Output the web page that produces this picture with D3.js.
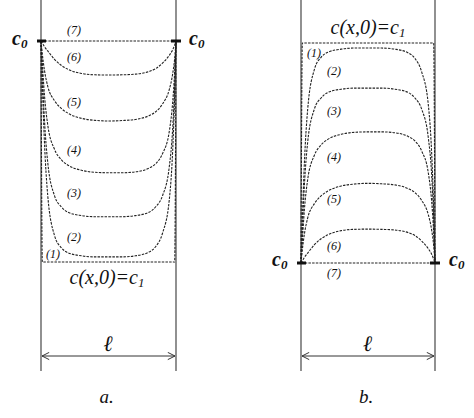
<!DOCTYPE html>
<html>
<head>
<meta charset="utf-8">
<script src="https://cdn.jsdelivr.net/npm/d3@7"></script>
<style>
body{margin:0;background:#fff;}
</style>
</head>
<body>
<div id="chart"></div>
<script>
// curve labels, top to bottom order of time
var curveLabels = ["(1)","(2)","(3)","(4)","(5)","(6)","(7)"];

// positions along the layer, 0..l
var xs = [0,0.01,0.025,0.05,0.1,0.15,0.2,0.3,0.4,0.5,0.6,0.7,0.8,0.85,0.9,0.95,0.975,0.99,1];

// fraction of the way from c0 to c1 at each x
var prof1 = [0,1,1,1,1,1,1,1,1,1,1,1,1,1,1,1,1,1,0];
var prof2 = [0,0.2,0.45,0.7,0.88,0.935,0.958,0.972,0.977,0.977,0.977,0.972,0.955,0.93,0.87,0.72,0.5,0.25,0];
var prof3 = [0,0.15,0.35,0.55,0.7,0.75,0.775,0.79,0.795,0.795,0.795,0.79,0.775,0.75,0.7,0.57,0.4,0.2,0];
var prof4 = [0,0.1,0.24,0.38,0.49,0.537,0.562,0.585,0.594,0.596,0.596,0.592,0.575,0.555,0.51,0.41,0.28,0.14,0];
var prof5 = [0,0.06,0.13,0.205,0.27,0.305,0.327,0.35,0.359,0.362,0.36,0.355,0.338,0.32,0.285,0.22,0.15,0.08,0];
var prof6 = [0,0.01,0.025,0.045,0.083,0.11,0.128,0.147,0.153,0.154,0.153,0.15,0.138,0.125,0.1,0.065,0.04,0.018,0];
var prof7 = [0,0,0,0,0,0,0,0,0,0,0,0,0,0,0,0,0,0,0];

var profiles = [prof1,prof2,prof3,prof4,prof5,prof6,prof7];

var W = 474, H = 418;
var svg = d3.select("#chart").append("svg").attr("width",W).attr("height",H)
	.attr("font-family","'Liberation Serif','Times New Roman',serif")
	.attr("font-style","italic");

var panels = [
	{name:"a.", x0:41, x1:176, yc0:41, yc1:262, lineTop:0, lineBot:371,
	 labelX:[53,74,74,74,74,74,74], labelY:[254,237,193,150,102,57,30],
	 eqX:107, eqY:284, c0Y:45, c0L:12, c0R:189},
	{name:"b.", x0:301, x1:435, yc0:263, yc1:43, lineTop:0, lineBot:371,
	 labelX:[314,334,334,334,334,334,334], labelY:[53,71,111,157,199,246,273],
	 eqX:368, eqY:34, c0Y:266, c0L:272, c0R:449}
];

var defs = svg.append("defs");
defs.append("marker").attr("id","arr").attr("viewBox","0 0 10 10")
	.attr("refX",9).attr("refY",5).attr("markerWidth",9).attr("markerHeight",9)
	.attr("markerUnits","userSpaceOnUse").attr("orient","auto-start-reverse")
	.append("path").attr("d","M1,1 L9,5 L1,9").attr("fill","none")
	.attr("stroke","#333").attr("stroke-width",1.1);

panels.forEach(function(p){
	var g = svg.append("g");
	var x = d3.scaleLinear().domain([0,1]).range([p.x0,p.x1]);
	var y = d3.scaleLinear().domain([0,1]).range([p.yc0,p.yc1]);

	// side walls
	[p.x0,p.x1].forEach(function(v){
		g.append("line").attr("x1",v).attr("x2",v).attr("y1",p.lineTop).attr("y2",p.lineBot)
			.attr("stroke","#555").attr("stroke-width",1.3);
	});

	var line = d3.line().x(function(d){return x(d[0]);}).y(function(d){return y(d[1]);})
		.curve(d3.curveMonotoneX);

	profiles.forEach(function(prof,i){
		var pts = xs.map(function(v,j){return [v,prof[j]];});
		g.append("path").attr("d",line(pts)).attr("fill","none")
			.attr("stroke","#222").attr("stroke-width",1.1)
			.attr("stroke-dasharray","2.5,1.2");
		g.append("text").attr("x",p.labelX[i]).attr("y",p.labelY[i]+4)
			.attr("text-anchor","middle").attr("font-size",12).attr("fill","#111").text(curveLabels[i]);
	});

	// c0 boundary marks
	g.append("line").attr("x1",x(0)-4).attr("x2",x(0)+5).attr("y1",y(0)).attr("y2",y(0))
		.attr("stroke","#111").attr("stroke-width",3);
	g.append("line").attr("x1",x(1)-5).attr("x2",x(1)+5).attr("y1",y(0)).attr("y2",y(0))
		.attr("stroke","#111").attr("stroke-width",3);

	[p.c0L,p.c0R].forEach(function(cx){
		var t = g.append("text").attr("x",cx).attr("y",p.c0Y).attr("font-size",20)
			.attr("font-weight","bold").attr("fill","#111");
		t.append("tspan").text("c");
		t.append("tspan").attr("dy",3).attr("font-size",13).text("0");
	});

	var eq = g.append("text").attr("x",p.eqX).attr("y",p.eqY).attr("text-anchor","middle")
		.attr("font-size",20).attr("fill","#111");
	eq.append("tspan").text("c(x,0)=c");
	eq.append("tspan").attr("dy",3).attr("font-size",13).text("1");

	// width arrow
	g.append("line").attr("x1",x(0)+1).attr("x2",x(1)-1).attr("y1",356).attr("y2",356)
		.attr("stroke","#333").attr("stroke-width",1)
		.attr("marker-start","url(#arr)").attr("marker-end","url(#arr)");
	g.append("text").attr("x",(p.x0+p.x1)/2).attr("y",351).attr("text-anchor","middle")
		.attr("font-size",22).attr("font-weight","bold").attr("fill","#111").text("\u2113");

	g.append("text").attr("x",(p.x0+p.x1)/2-2).attr("y",403).attr("text-anchor","middle")
		.attr("font-size",19).attr("fill","#111").text(p.name);
});
</script>
</body>
</html>
